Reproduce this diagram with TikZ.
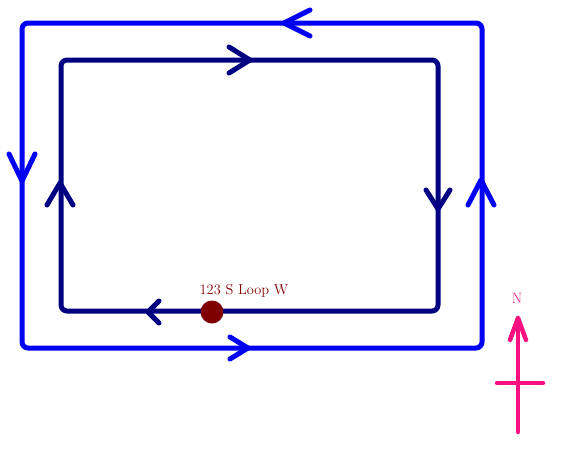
\documentclass[tikz,border=0pt]{standalone}
\usepackage{tikz}
\usetikzlibrary{positioning,calc}
\definecolor{loopblue}{RGB}{0,0,245}
\definecolor{loopnavy}{RGB}{0,0,128}
\definecolor{stopred}{RGB}{128,0,0}
\definecolor{northpink}{RGB}{250,16,128}
\tikzset{
  outerloop/.style={color=loopblue,line width=5pt,rounded corners=6pt},
  innerloop/.style={color=loopnavy,line width=5pt,rounded corners=6pt},
  northline/.style={color=northpink,line width=4.5pt},
  pics/chev/.style 2 args={code={\draw (-#1,-#2) -- (0,0) -- (-#1,#2);}}
}
\begin{document}
\begin{tikzpicture}[x=1pt,y=-1pt,line cap=round,line join=round]
        \useasboundingbox (0,0) rectangle (565,458);
        % loops
        \coordinate (outerNW) at (22,23);
        \coordinate (outerSE) at (482,348);
        \coordinate (innerNW) at (61,60);
        \coordinate (innerSE) at (438,311);
        \draw[outerloop] (outerNW) rectangle (outerSE);
        \draw[innerloop] (innerNW) rectangle (innerSE);
        % direction marks
        \foreach \tip/\ang/\len/\half in {{284,23}/180/26/13, {22,181}/270/27/13, {248,348}/0/18/11, {481,180}/90/25/13} {
            \pic[outerloop,rounded corners=0pt,rotate=\ang] at (\tip) {chev={\len}{\half}};
        }
        \foreach \tip/\ang/\len/\half in {{250,60}/0/21/13, {438,209}/270/19/12, {148,312}/180/11/11, {60,183}/90/22/13} {
            \pic[innerloop,rounded corners=0pt,rotate=\ang] at (\tip) {chev={\len}{\half}};
        }
        % stop
        \node[circle,fill=stopred,minimum size=23pt,inner sep=0pt] (stop) at (212,312) {};
        \node[anchor=base,text=stopred,font=\fontsize{14.4}{16}\selectfont] (stoplabel) at (244,294) {123 S Loop W};
        % north arrow
        \coordinate (northtail) at (518,432);
        \coordinate (northtip) at (518,318);
        \coordinate (crossW) at (497,383);
        \coordinate (crossE) at (543,383);
        \draw[northline] (northtail) -- (northtip);
        \draw[northline] (crossW) -- (crossE);
        \pic[northline,rotate=90] at (northtip) {chev={22}{8}};
        \node[anchor=base,text=northpink,font=\fontsize{15}{17}\selectfont] (northlabel) at (517,303) {N};
\end{tikzpicture}
\end{document}
